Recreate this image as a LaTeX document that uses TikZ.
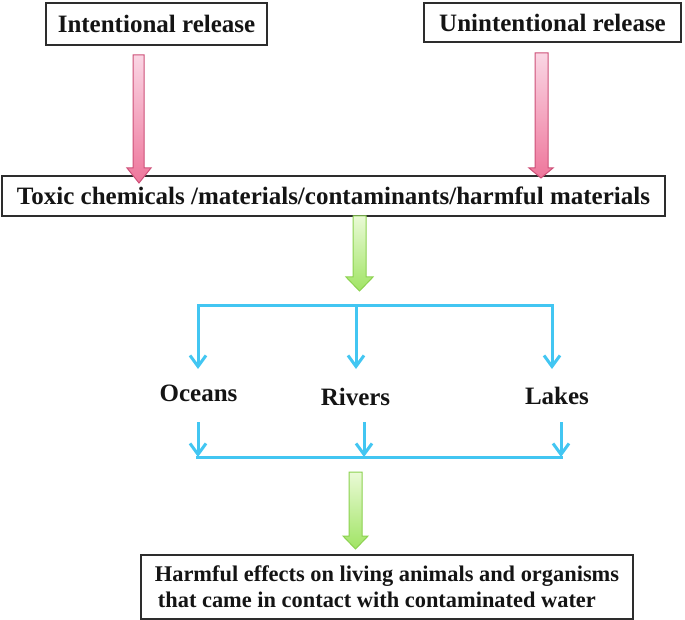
\documentclass[tikz,border=0pt]{standalone}
\usepackage{fontspec}
\setmainfont{Liberation Serif}
\usetikzlibrary{arrows.meta}
\definecolor{boxline}{RGB}{45,45,45}
\definecolor{bluel}{RGB}{66,198,242}
\definecolor{pinktop}{RGB}{250,214,228}
\definecolor{pinkbot}{RGB}{238,118,155}
\definecolor{pinkedge}{RGB}{205,80,120}
\definecolor{greentop}{RGB}{234,250,214}
\definecolor{greenbot}{RGB}{160,228,100}
\definecolor{greenedge}{RGB}{140,210,80}
\tikzset{
  boxnode/.style={draw=boxline, line width=1.3pt, inner sep=0pt, font=\bfseries\fontsize{25}{30}\selectfont, text=black!92},
  lbl/.style={inner sep=0pt, font=\bfseries\fontsize{25}{30}\selectfont, text=black!92},
  pinkarrow/.style={draw=pinkedge, line width=1pt, line join=miter, top color=pinktop, bottom color=pinkbot},
  greenarrow/.style={draw=greenedge, line width=1pt, line join=miter, top color=greentop, bottom color=greenbot},
  blueline/.style={draw=bluel, line width=3pt, line join=miter, arrows={Straight Barb[length=11pt,width=16pt,line width=3pt]-Straight Barb[length=11pt,width=16pt,line width=3pt]}},
  bluearr/.style={draw=bluel, line width=3pt, -{Straight Barb[length=11pt,width=16pt,line width=3pt]}}
}
\begin{document}
\begin{tikzpicture}[x=1pt,y=-1pt]
\useasboundingbox (0,0) rectangle (685,620);
% boxes
\node[boxnode, minimum width=221pt, minimum height=42pt] (intent) at (156.5,24) {Intentional release};
\node[boxnode, minimum width=257pt, minimum height=39pt] (unintent) at (552.5,22.5) {Unintentional release};
\node[boxnode, minimum width=663pt, minimum height=40pt] (toxic) at (333.5,196) {Toxic chemicals /materials/contaminants/harmful materials};
\node[boxnode, minimum width=492pt, minimum height=64pt, align=left, font=\bfseries\fontsize{22.4}{26}\selectfont] (effects) at (387,587) {Harmful effects on living animals and organisms\\\hspace{3pt}that came in contact with contaminated water};
% labels
\node[lbl] (oceans) at (198.5,393) {Oceans};
\node[lbl] (rivers) at (355.5,397) {Rivers};
\node[lbl] (lakes) at (557,396) {Lakes};
% pink block arrows
\path[pinkarrow] (133,55) -- (144,55) -- (144,168) -- (151,168) -- (139,183) -- (127,168) -- (133,168) -- cycle;
\path[pinkarrow] (535,53) -- (548,53) -- (548,168) -- (553,168) -- (541,178) -- (529,168) -- (535,168) -- cycle;
% green block arrows
\path[greenarrow] (353,216) -- (366,216) -- (366,277) -- (373,277) -- (359.5,291) -- (346,277) -- (353,277) -- cycle;
\path[greenarrow] (349,472) -- (362,472) -- (362,536) -- (368,536) -- (355.5,549) -- (343,536) -- (349,536) -- cycle;
% blue distribution lines
\coordinate (tl) at (198,305);
\coordinate (tm) at (356,305);
\coordinate (tr) at (552,305);
\coordinate (ol) at (198,369);
\coordinate (rl) at (356,369);
\coordinate (ll) at (552,369);
\draw[blueline] (ol) -- (tl) -- (tr) -- (ll);
\draw[bluearr] (tm) -- (rl);
% blue collecting lines
\coordinate (bo) at (198,422);
\coordinate (br) at (364,422);
\coordinate (bl) at (561,422);
\coordinate (jo) at (198,457);
\coordinate (jr) at (364,457);
\coordinate (jl) at (561,457);
\draw[draw=bluel, line width=3pt] (196,457) -- (563,457);
\draw[bluearr] (bo) -- (jo);
\draw[bluearr] (br) -- (jr);
\draw[bluearr] (bl) -- (jl);
\end{tikzpicture}
\end{document}
